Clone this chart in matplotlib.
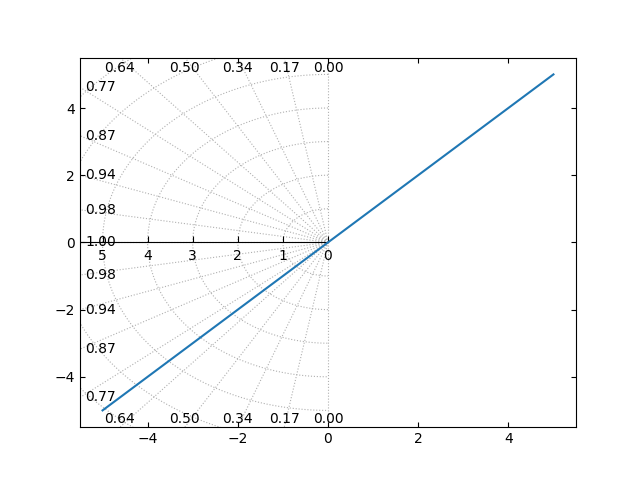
import numpy as np
import matplotlib
matplotlib.use("Agg")
import matplotlib.pyplot as plt

# ---- data ----
line_x = [-5, 5]
line_y = [-5, 5]
x_limits = [-5.5, 5.5]
y_limits = [-5.5, 5.5]
x_ticks = [-4, -2, 0, 2, 4]
y_ticks = [-4, -2, 0, 2, 4]
grid_angles_deg = [90, 100, 110, 120, 130, 140, 150, 160, 170, 180]
damping_labels = ["0.00", "0.17", "0.34", "0.50", "0.64",
                  "0.77", "0.87", "0.94", "0.98", "1.00"]
grid_radii = [1, 2, 3, 4, 5, 6, 7]
wn_ticks = [0, 1, 2, 3, 4, 5]
wn_labels = ["0", "1", "2", "3", "4", "5"]

fig, ax = plt.subplots(figsize=(6.4, 4.8), dpi=100)
ax.set_xlim(*x_limits)
ax.set_ylim(*y_limits)
ax.set_xticks(x_ticks)
ax.set_yticks(y_ticks)
ax.tick_params(direction="in", top=True, right=True)

grid_kw = dict(color="#b0b0b0", lw=0.8, ls=":", zorder=0)
R = 12
for a in grid_angles_deg:
    th = np.deg2rad(a)
    ax.plot([0, R * np.cos(th)], [0, R * np.sin(th)], **grid_kw)
    if a != 180:
        ax.plot([0, R * np.cos(th)], [0, -R * np.sin(th)], **grid_kw)
for r in grid_radii:
    t = np.linspace(np.pi / 2, 3 * np.pi / 2, 300)
    ax.plot(r * np.cos(t), r * np.sin(t), **grid_kw)

# damping-ratio labels along the axes border
for a, lbl in zip(grid_angles_deg, damping_labels):
    th = np.deg2rad(a)
    dx, dy = np.cos(th), np.sin(th)
    t_top = y_limits[1] / dy if dy > 1e-9 else np.inf
    t_left = x_limits[0] / dx if dx < -1e-9 else np.inf
    if t_top <= t_left:
        xi = t_top * dx
        ax.annotate(lbl, xy=(xi, y_limits[1]), xytext=(0, -2.5),
                    textcoords="offset points", ha="center", va="top",
                    annotation_clip=False, zorder=3)
        ax.annotate(lbl, xy=(xi, y_limits[0]), xytext=(0, 1.2),
                    textcoords="offset points", ha="center", va="bottom",
                    annotation_clip=False, zorder=3)
    else:
        yi = t_left * dy
        ax.annotate(lbl, xy=(x_limits[0], yi), xytext=(4, 0),
                    textcoords="offset points", ha="left", va="center",
                    annotation_clip=False, zorder=3)
        if a != 180:
            ax.annotate(lbl, xy=(x_limits[0], -yi), xytext=(4, 0),
                        textcoords="offset points", ha="left", va="center",
                        annotation_clip=False, zorder=3)

# floating natural-frequency axis on the negative real axis
ax.plot([x_limits[0], 0], [0, 0], color="black", lw=0.8, zorder=2)
for t, lbl in zip(wn_ticks, wn_labels):
    ax.plot([-t], [0], marker=2, color="black", ms=4, mew=0.8, zorder=2)
    ax.annotate(lbl, xy=(-t, 0), xytext=(0, -4.5), textcoords="offset points",
                ha="center", va="top", zorder=3)

ax.plot(line_x, line_y, color="#1f77b4", lw=1.5, zorder=4)

fig.savefig("out.png", dpi=100)
